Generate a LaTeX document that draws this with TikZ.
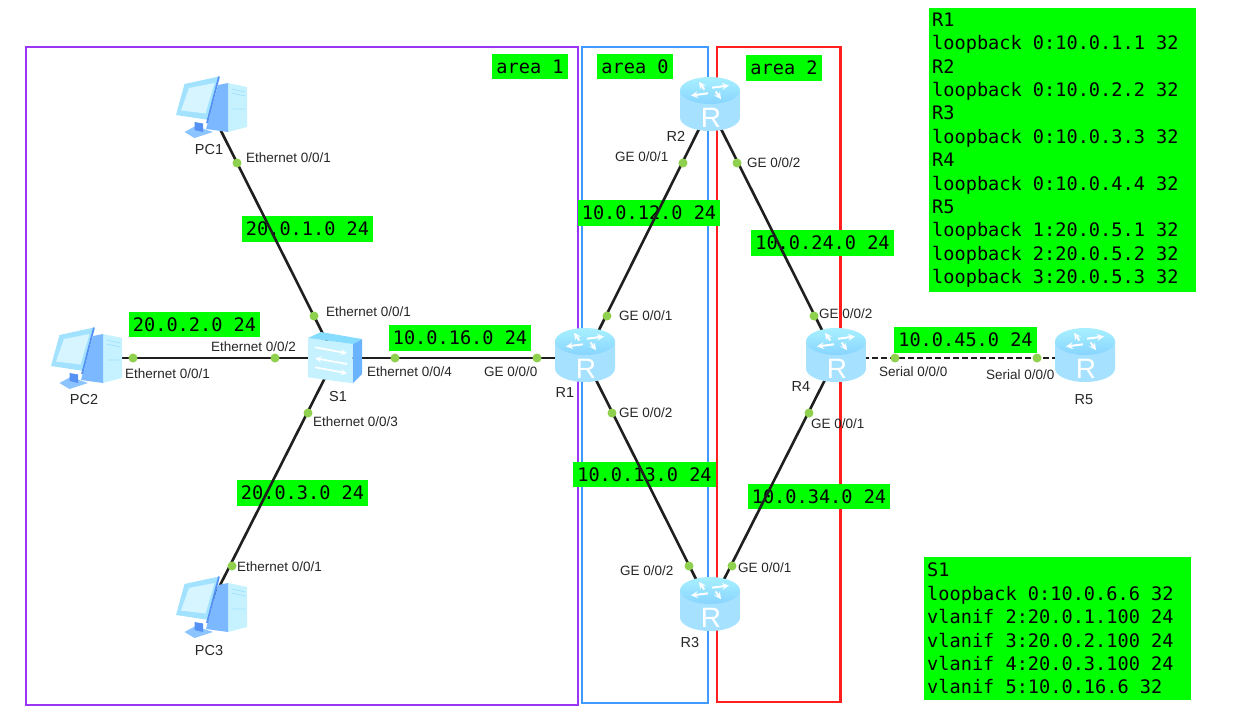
\documentclass[tikz,border=0pt]{standalone}
\usepackage{fontspec}
\newfontfamily\portfont{Liberation Sans}
\newfontfamily\netfont[WordSpace={1,0,0}]{DejaVu Sans Mono}
\definecolor{netgreen}{HTML}{00FF00}
\definecolor{areapurple}{HTML}{9A35F5}
\definecolor{areablue}{HTML}{3F9BFF}
\definecolor{areared}{HTML}{FF1F1F}
\definecolor{portdotc}{HTML}{8FD14F}
\definecolor{routeredge}{HTML}{A6E2FF}
\definecolor{routermid}{HTML}{78C4FF}
\definecolor{routertop}{HTML}{A8F0FF}
\definecolor{routertopb}{HTML}{88D4FF}
\definecolor{pcfront}{HTML}{C6F2FF}
\definecolor{pcside}{HTML}{7CB8FF}
\definecolor{pcmonitor}{HTML}{A2E2FF}
\definecolor{pcscreen}{HTML}{D6F5FF}
\definecolor{pcfoot}{HTML}{8CC4FF}
\definecolor{pcedge}{HTML}{5590F5}
\definecolor{swtop}{HTML}{86DCFF}
\definecolor{swside}{HTML}{6AB4FF}
\tikzset{
  devnode/.style={inner sep=0pt, minimum size=0pt},
  netlink/.style={line width=2.6pt, color=black!88},
  arealine/.style={line width=2.6pt},
  netbox/.style={fill=netgreen, inner ysep=0pt, inner xsep=4pt, minimum height=25.5pt,
    font=\netfont\fontsize{18.6}{20}\selectfont},
  infobox/.style={fill=netgreen, anchor=north west, inner sep=3pt, text width=261pt, align=flush left,
    font=\netfont\fontsize{18.6}{23.4}\selectfont},
  portdot/.style={circle, fill=portdotc, inner sep=0pt, minimum size=9pt},
  portlabel/.style={anchor=west, inner sep=0pt, text=black!85, font=\portfont\fontsize{13.5}{15}\selectfont},
  devlabel/.style={inner sep=0pt, text=black!85, font=\portfont\fontsize{14.5}{16}\selectfont},
  router/.pic={
    \shade[left color=routeredge, middle color=routermid, right color=routeredge]
      (-30,-16.5) -- (-30,10.5) arc[start angle=180, end angle=360, x radius=30pt, y radius=13.5pt] -- (30,-16.5) -- cycle;
    \shade[top color=routertop, bottom color=routertopb] (0,-16.5) ellipse[x radius=30pt, y radius=13.5pt];
    \foreach \ang in {20,110,200,290}
      \draw[white, line width=2pt, ->, >=stealth] ({6*cos(\ang)},{-16.5+3*sin(\ang)}) -- ({22*cos(\ang+40)},{-16.5+10*sin(\ang+40)});
    \node[inner sep=0pt, text=white, font=\portfont\fontsize{28}{28}\selectfont] (rletter) at (1,11) {R};
  },
  pcicon/.pic={
    \fill[pcfront] (19,-24) -- (38,-20) -- (38,20) -- (19,25) -- cycle;
    \fill[pcside] (9,-22) -- (19,-24) -- (19,25) -- (-3,22) -- cycle;
    \draw[pcmonitor, line width=.8pt] (23,-18) -- (36,-15) (23,-14) -- (36,-11) (23,2) -- (36,2);
    \fill[pcfoot] (-24.5,25) -- (-13.5,19) -- (4,25) -- (-14.5,31) -- cycle;
    \fill[pcedge] (-14.5,15) -- (-6,16.5) -- (-6,25) -- (-14.5,23) -- cycle;
    \fill[pcmonitor] (-24.5,-23) -- (10,-30.5) -- (0,13) -- (-33,8) -- cycle;
    \fill[pcscreen] (-20,-19) -- (5.5,-24) -- (-3.5,6.5) -- (-28,3.5) -- cycle;
    \draw[pcedge, line width=1.8pt] (10,-30.5) -- (-2,16);
  },
  switchicon/.pic={
    \fill[swside] (17.7,-14) -- (27,-19) -- (27,16) -- (17.7,25.3) -- cycle;
    \fill[pcfront] (-27,-20) -- (17.7,-14) -- (17.7,25.3) -- (-27,19.3) -- cycle;
    \fill[swtop] (-27,-20) -- (-14,-26) -- (27,-19) -- (17.7,-14) -- cycle;
    \draw[white, line width=1.7pt, ->, >=stealth] (-19.7,-10.7) -- (12,-4.7);
    \draw[white, line width=1.7pt, ->, >=stealth] (12,6) -- (-19.7,.3);
    \draw[white, line width=1.7pt, ->, >=stealth] (-19.7,9.3) -- (12,15.3);
  }
}
\begin{document}
\begin{tikzpicture}[x=1pt, y=-1pt]
  \useasboundingbox (0,0) rectangle (1236,720);
  \draw[arealine, areapurple] (26,47) rectangle (578,705);
  \draw[arealine, areablue] (582,47) rectangle (708,703);
  \draw[arealine, areared] (717,47) rectangle (840.5,702);

  \node[netbox] (n1) at (530,66.5) {area 1};
  \node[netbox] (n2) at (635,66.5) {area 0};
  \node[netbox] (n3) at (784,68) {area 2};
  \node[netbox] (n4) at (307.5,229) {20.0.1.0 24};
  \node[netbox] (n5) at (194.5,324.5) {20.0.2.0 24};
  \node[netbox] (n6) at (460,338) {10.0.16.0 24};
  \node[netbox] (n7) at (302.5,493) {20.0.3.0 24};
  \node[netbox] (n8) at (649,213) {10.0.12.0 24};
  \node[netbox] (n9) at (822.5,243) {10.0.24.0 24};
  \node[netbox] (n10) at (965.5,340) {10.0.45.0 24};
  \node[netbox] (n11) at (644.5,474.5) {10.0.13.0 24};
  \node[netbox] (n12) at (819,496.5) {10.0.34.0 24};

  \node[infobox, minimum height=284pt] (rinfo) at (929,8) {R1\\loopback 0:10.0.1.1 32\\R2\\loopback 0:10.0.2.2 32\\R3\\loopback 0:10.0.3.3 32\\R4\\loopback 0:10.0.4.4 32\\R5\\loopback 1:20.0.5.1 32\\loopback 2:20.0.5.2 32\\loopback 3:20.0.5.3 32};
  \node[infobox, minimum height=143pt] (sinfo) at (924,557) {S1\\loopback 0:10.0.6.6 32\\vlanif 2:20.0.1.100 24\\vlanif 3:20.0.2.100 24\\vlanif 4:20.0.3.100 24\\vlanif 5:10.0.16.6 32};

  \node[devnode] (PC1) at (209,107) {};
  \node[devnode] (PC2) at (84,358) {};
  \node[devnode] (PC3) at (209,607) {};
  \node[devnode] (S1) at (335,358) {};
  \node[devnode] (R1) at (585,358) {};
  \node[devnode] (R2) at (710,107) {};
  \node[devnode] (R3) at (710,607) {};
  \node[devnode] (R4) at (836,358) {};
  \node[devnode] (R5) at (1085,358) {};

  \draw[netlink] (PC1) -- (S1);
  \draw[netlink] (PC2) -- (S1);
  \draw[netlink] (PC3) -- (S1);
  \draw[netlink] (S1) -- (R1);
  \draw[netlink] (R1) -- (R2);
  \draw[netlink] (R1) -- (R3);
  \draw[netlink] (R2) -- (R4);
  \draw[netlink] (R3) -- (R4);
  \draw[netlink, dash pattern=on 6pt off 3pt] (R4) -- (R5);

  \pic at (PC1) {pcicon};
  \pic at (PC2) {pcicon};
  \pic at (PC3) {pcicon};
  \pic at (S1) {switchicon};
  \pic at (R1) {router};
  \pic at (R2) {router};
  \pic at (R3) {router};
  \pic at (R4) {router};
  \pic at (R5) {router};

  \node[portdot] (d1) at (237,163) {};
  \node[portdot] (d2) at (314,316) {};
  \node[portdot] (d3) at (133,358) {};
  \node[portdot] (d4) at (275,358) {};
  \node[portdot] (d5) at (395,358) {};
  \node[portdot] (d6) at (308,413) {};
  \node[portdot] (d7) at (232,566) {};
  \node[portdot] (d8) at (537,358) {};
  \node[portdot] (d9) at (607,316) {};
  \node[portdot] (d10) at (683,163) {};
  \node[portdot] (d11) at (737,163) {};
  \node[portdot] (d12) at (814,316) {};
  \node[portdot] (d13) at (612,413) {};
  \node[portdot] (d14) at (809,413) {};
  \node[portdot] (d15) at (689,566) {};
  \node[portdot] (d16) at (732,566) {};
  \node[portdot] (d17) at (895,358) {};
  \node[portdot] (d18) at (1037,358) {};

  \node[portlabel] (l1) at (246,158) {Ethernet 0/0/1};
  \node[portlabel] (l2) at (326,312) {Ethernet 0/0/1};
  \node[portlabel] (l3) at (125,374) {Ethernet 0/0/1};
  \node[portlabel] (l4) at (211,347) {Ethernet 0/0/2};
  \node[portlabel] (l5) at (367,372) {Ethernet 0/0/4};
  \node[portlabel] (l6) at (313,422) {Ethernet 0/0/3};
  \node[portlabel] (l7) at (237,567) {Ethernet 0/0/1};
  \node[portlabel] (l8) at (484,372) {GE 0/0/0};
  \node[portlabel] (l9) at (619,316) {GE 0/0/1};
  \node[portlabel] (l10) at (615,157) {GE 0/0/1};
  \node[portlabel] (l11) at (747,163) {GE 0/0/2};
  \node[portlabel] (l12) at (819,314) {GE 0/0/2};
  \node[portlabel] (l13) at (619,413) {GE 0/0/2};
  \node[portlabel] (l14) at (811,424) {GE 0/0/1};
  \node[portlabel] (l15) at (620,571) {GE 0/0/2};
  \node[portlabel] (l16) at (738,568) {GE 0/0/1};
  \node[portlabel] (l17) at (879,372) {Serial 0/0/0};
  \node[portlabel] (l18) at (986,375) {Serial 0/0/0};

  \node[devlabel] (t1) at (209,150) {PC1};
  \node[devlabel] (t2) at (84,400) {PC2};
  \node[devlabel] (t3) at (209,650) {PC3};
  \node[devlabel] (t4) at (338,397) {S1};
  \node[devlabel] (t5) at (565,393) {R1};
  \node[devlabel] (t6) at (676,136) {R2};
  \node[devlabel] (t7) at (690,642) {R3};
  \node[devlabel] (t8) at (801,387) {R4};
  \node[devlabel] (t9) at (1084,400) {R5};
\end{tikzpicture}
\end{document}
